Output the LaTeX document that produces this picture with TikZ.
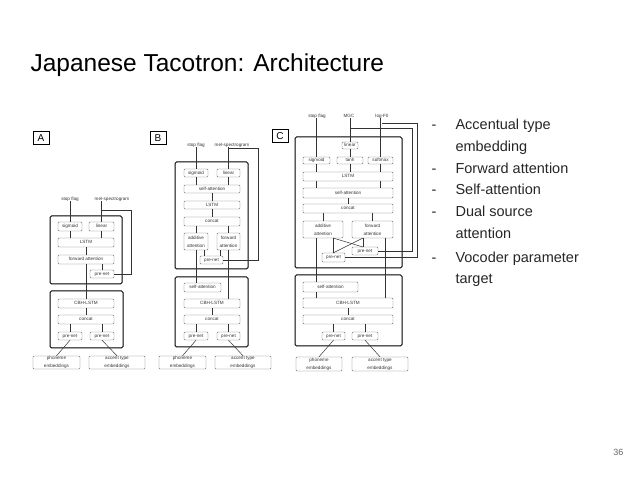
\documentclass[tikz,border=0pt]{standalone}
\usepackage{fontspec}
\setmainfont{Liberation Sans}
\usetikzlibrary{fit}
\begin{document}
\begin{tikzpicture}[x=1pt,y=-1pt,
  box/.style={draw=black!55,rounded corners=1pt,line width=0.4pt,inner sep=0pt},
  outer/.style={draw=black,rounded corners=1.5pt,line width=1pt,inner sep=0pt},
  lbl/.style={font=\fontsize{4.6}{7.5}\selectfont,align=center,text=black!80,text height=3.4pt,text depth=1pt,inner sep=0pt},
  lbltwo/.style={font=\fontsize{4.6}{8}\selectfont,align=center,text=black!80,inner sep=0pt},
  ln/.style={draw=black!80,line width=0.5pt},
  tag/.style={draw=black,line width=0.5pt,font=\fontsize{10}{10}\selectfont,inner sep=1.5pt,minimum width=16pt,minimum height=13pt},
  bul/.style={font=\fontsize{14.5}{17}\selectfont,anchor=base west,text=black!85}]
\newcommand{\bx}[6]{\node[box,fit={(#2,#3)(#4,#5)},label={[lbl]center:#6}] (#1) {};}
\newcommand{\bxx}[6]{\node[box,fit={(#2,#3)(#4,#5)},label={[lbltwo]center:#6}] (#1) {};}
\newcommand{\ob}[5]{\node[outer,fit={(#2,#3)(#4,#5)}] (#1) {};}
\useasboundingbox (0,0) rectangle (638,478);
\node[anchor=west,font=\fontsize{24.5}{27}\selectfont] (title) at (27,65) {Japanese Tacotron: Architecture};
\node[anchor=south east,font=\fontsize{9}{10}\selectfont,text=black!60] (pg) at (627,459) {36};
\node[bul] (d1) at (428,130) {-}; \node[bul] (b1) at (452,130) {Accentual type};
\node[bul] (b1b) at (452,152) {embedding};
\node[bul] (d2) at (428,174) {-}; \node[bul] (b2) at (452,174) {Forward attention};
\node[bul] (d3) at (428,195) {-}; \node[bul] (b3) at (452,195) {Self-attention};
\node[bul] (d4) at (428,217) {-}; \node[bul] (b4) at (452,217) {Dual source};
\node[bul] (b4b) at (452,239) {attention};
\node[bul] (d5) at (428,263) {-}; \node[bul] (b5) at (452,263) {Vocoder parameter};
\node[bul] (b5b) at (452,284) {target};
% ---------- A ----------
\node[tag] (tA) at (41,138) {A};
\node[lbl] (sfA) at (70,199) {stop flag};
\node[lbl] (msA) at (112,199) {mel-spectrogram};
\ob{decA}{50}{216}{122}{284}
\bx{sigA}{58}{222}{82}{231}{sigmoid}
\bx{linA}{89}{222}{114}{231}{linear}
\bx{lstmA}{58}{238}{114}{247}{LSTM}
\bx{faA}{58}{255}{114}{264}{forward attention}
\bx{pnA}{90}{270}{114}{278}{pre-net}
\ob{encA}{50}{291}{123}{348}
\bx{cbhA}{58}{299}{114}{308}{CBH-LSTM}
\bx{catA}{58}{315}{114}{324}{concat}
\bx{p1A}{58}{332}{82}{340}{pre-net}
\bx{p2A}{90}{332}{114}{340}{pre-net}
\bxx{phA}{33}{356}{80}{369}{phoneme\\embeddings}
\bxx{acA}{89}{356}{145}{369}{accent type\\embeddings}
\draw[ln] (sigA.north) -- (sigA.north |- sfA.south);
\draw[ln] (linA.north) -- (linA.north |- msA.south);
\draw[ln] (sigA.south) -- (sigA.south |- lstmA.north);
\draw[ln] (linA.south) -- (linA.south |- lstmA.north);
\draw[ln] (lstmA.south) -- (faA.north);
\draw[ln] (pnA.north) -- (pnA.north |- faA.south);
\draw[ln] (faA.south) -- (cbhA.north);
\draw[ln] (102,210) -- (131,210) |- (pnA.east);
\draw[ln] (cbhA.south) -- (catA.north);
\draw[ln] (p1A.north) -- (p1A.north |- catA.south);
\draw[ln] (p2A.north) -- (p2A.north |- catA.south);
\draw[ln] (p1A.south) -- (phA.north);
\draw[ln] (p2A.south) -- (acA.north);
% ---------- B ----------
\node[tag] (tB) at (158,138) {B};
\node[lbl] (sfB) at (196,145) {stop flag};
\node[lbl] (msB) at (232,145) {mel-spectrogram};
\ob{decB}{175}{162}{248}{269}
\bx{sigB}{184}{169}{208}{177}{sigmoid}
\bx{linB}{217}{169}{240}{177}{linear}
\bx{saB}{184}{185}{240}{193}{self-attention}
\bx{lstmB}{184}{201}{240}{209}{LSTM}
\bx{catdB}{184}{217}{240}{226}{concat}
\bxx{aaB}{184}{233}{208}{250}{additive\\attention}
\bxx{faB}{217}{233}{240}{250}{forward\\attention}
\bx{pnB}{200}{256}{223}{264}{pre-net}
\ob{encB}{175}{277}{248}{347}
\bx{sa2B}{184}{283}{221}{292}{self-attention}
\bx{cbhB}{184}{299}{240}{308}{CBH-LSTM}
\bx{catB}{184}{315}{240}{324}{concat}
\bx{p1B}{184}{332}{208}{340}{pre-net}
\bx{p2B}{217}{332}{240}{340}{pre-net}
\bxx{phB}{159}{356}{206}{369}{phoneme\\embeddings}
\bxx{acB}{215}{356}{271}{369}{accent type\\embeddings}
\draw[ln] (sigB.north) -- (sigB.north |- sfB.south);
\draw[ln] (linB.north) -- (linB.north |- msB.south);
\draw[ln] (sigB.south) -- (sigB.south |- saB.north);
\draw[ln] (linB.south) -- (linB.south |- saB.north);
\draw[ln] (saB.south) -- (lstmB.north);
\draw[ln] (lstmB.south) -- (catdB.north);
\draw[ln] (aaB.north) -- (aaB.north |- catdB.south);
\draw[ln] (faB.north) -- (faB.north |- catdB.south);
\draw[ln] (pnB.north -| 204,0) -- (204,250);
\draw[ln] (pnB.north -| 220,0) -- (220,250);
\draw[ln] (228.5,148) -- (258,148) |- (pnB.east);
\draw[ln] (aaB.south) -- (aaB.south |- sa2B.north);
\draw[ln] (faB.south) -- (faB.south |- cbhB.north);
\draw[ln] (cbhB.south) -- (catB.north);
\draw[ln] (p1B.north) -- (p1B.north |- catB.south);
\draw[ln] (p2B.north) -- (p2B.north |- catB.south);
\draw[ln] (p1B.south) -- (phB.north);
\draw[ln] (p2B.south) -- (acB.north);
% ---------- C ----------
\node[tag] (tC) at (280,136) {C};
\node[lbl] (sfC) at (317,116) {stop flag};
\node[lbl] (mgC) at (349,116) {MGC};
\node[lbl] (lfC) at (382,116) {log-F0};
\ob{decC}{295}{137}{402}{268}
\bx{linC}{342}{142}{358}{149}{linear}
\bx{sigC}{303}{157}{330}{164}{sigmoid}
\bx{tanC}{337}{157}{363}{164}{tanh}
\bx{smC}{368}{157}{393}{164}{softmax}
\bx{lstmC}{303}{172}{393}{181}{LSTM}
\bx{saC}{303}{188}{393}{198}{self-attention}
\bx{catdC}{303}{204}{393}{213}{concat}
\bxx{aaC}{303}{221}{343}{238}{additive\\attention}
\bxx{faC}{352}{221}{393}{238}{forward\\attention}
\bx{pnrC}{352}{247}{378}{255}{pre-net}
\bx{pnlC}{322}{253}{345}{262}{pre-net}
\ob{encC}{295}{275}{402}{346}
\bx{sa2C}{303}{282}{358}{292}{self-attention}
\bx{cbhC}{303}{298}{393}{308}{CBH-LSTM}
\bx{catC}{303}{315}{393}{324}{concat}
\bx{p1C}{322}{332}{345}{340}{pre-net}
\bx{p2C}{352}{332}{378}{340}{pre-net}
\bxx{phC}{296}{357}{342}{371}{phoneme\\embeddings}
\bxx{acC}{352}{357}{408}{371}{accent type\\embeddings}
\draw[ln] (sigC.north) -- (sigC.north |- sfC.south);
\draw[ln] (linC.north) -- (linC.north |- mgC.south);
\draw[ln] (smC.north) -- (smC.north |- lfC.south);
\draw[ln] (linC.south) -- (tanC.north);
\draw[ln] (sigC.south) -- (sigC.south |- lstmC.north);
\draw[ln] (tanC.south) -- (tanC.south |- lstmC.north);
\draw[ln] (smC.south) -- (smC.south |- lstmC.north);
\draw[ln] (sigC.south |- lstmC.south) -- (sigC.south |- saC.north);
\draw[ln] (smC.south |- lstmC.south) -- (smC.south |- saC.north);
\draw[ln] (saC.south) -- (catdC.north);
\draw[ln] (aaC.north) -- (aaC.north |- catdC.south);
\draw[ln] (faC.north) -- (faC.north |- catdC.south);
\draw[ln] (333,238) -- (333,253);
\draw[ln] (363,238) -- (363,247);
\draw[ln] (333,238) -- (363,247);
\draw[ln] (333,253) -- (363,238);
\draw[ln] (350,128) -- (412,128) |- (pnrC.east);
\draw[ln] (382,123) -- (417,123) |- (pnlC.east);
\draw[ln] (316,238) -- (316,282);
\draw[ln] (385,238) -- (385,298);
\draw[ln] (316,292) -- (316,298);
\draw[ln] (cbhC.south) -- (catC.north);
\draw[ln] (p1C.north) -- (p1C.north |- catC.south);
\draw[ln] (p2C.north) -- (p2C.north |- catC.south);
\draw[ln] (p1C.south) -- (phC.north);
\draw[ln] (p2C.south) -- (acC.north);
\end{tikzpicture}
\end{document}
